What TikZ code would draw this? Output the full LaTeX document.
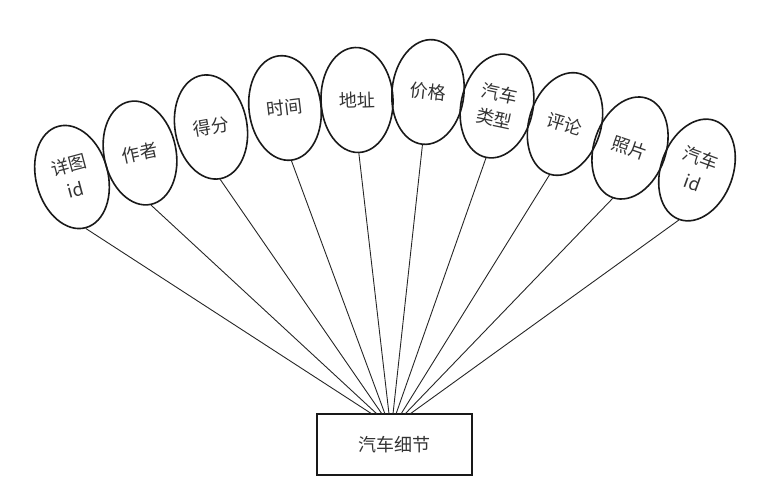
\documentclass[tikz,border=0pt]{standalone}
\usepackage{fontspec}
\setmainfont{Noto Sans CJK SC}
\usetikzlibrary{shapes.geometric}
\begin{document}
\begin{tikzpicture}[x=1pt,y=-1pt,
  attr/.style={ellipse,draw=black!90,line width=1.6pt,minimum width=72pt,minimum height=105pt,inner sep=0pt,
    align=center,font=\fontsize{18}{26}\selectfont,text=black!80},
  ent/.style={rectangle,draw=black!90,line width=1.6pt,minimum width=155pt,minimum height=61pt,
    font=\fontsize{18}{22}\selectfont,text=black!80},
  link/.style={draw=black!85,line width=0.9pt}]
\useasboundingbox (0,0) rectangle (761,500);
\node[ent] (car) at (394.5,444.5) {汽车细节};
\node[attr,rotate=15] (a1) at (72,177) {详图\\id};
\node[attr,rotate=12] (a2) at (140,153) {作者};
\node[attr,rotate=10] (a3) at (211,127) {得分};
\node[attr,rotate=7] (a4) at (285,108) {时间};
\node[attr,rotate=2] (a5) at (357,100) {地址};
\node[attr,rotate=-6] (a6) at (428,92) {价格};
\node[attr,rotate=-12] (a7) at (497,106) {汽车\\类型};
\node[attr,rotate=-17] (a8) at (565,124) {评论};
\node[attr,rotate=-19] (a9) at (630,148) {照片};
\node[attr,rotate=-20] (a10) at (697,170) {汽车\\id};
\foreach \i/\x in {1/372,2/377,3/382,4/385,5/389,6/393,7/396,8/401,9/405,10/410}{
  \coordinate (t\i) at (\x,414);
  \draw[link] (a\i.south) -- (t\i);
}
\end{tikzpicture}
\end{document}
